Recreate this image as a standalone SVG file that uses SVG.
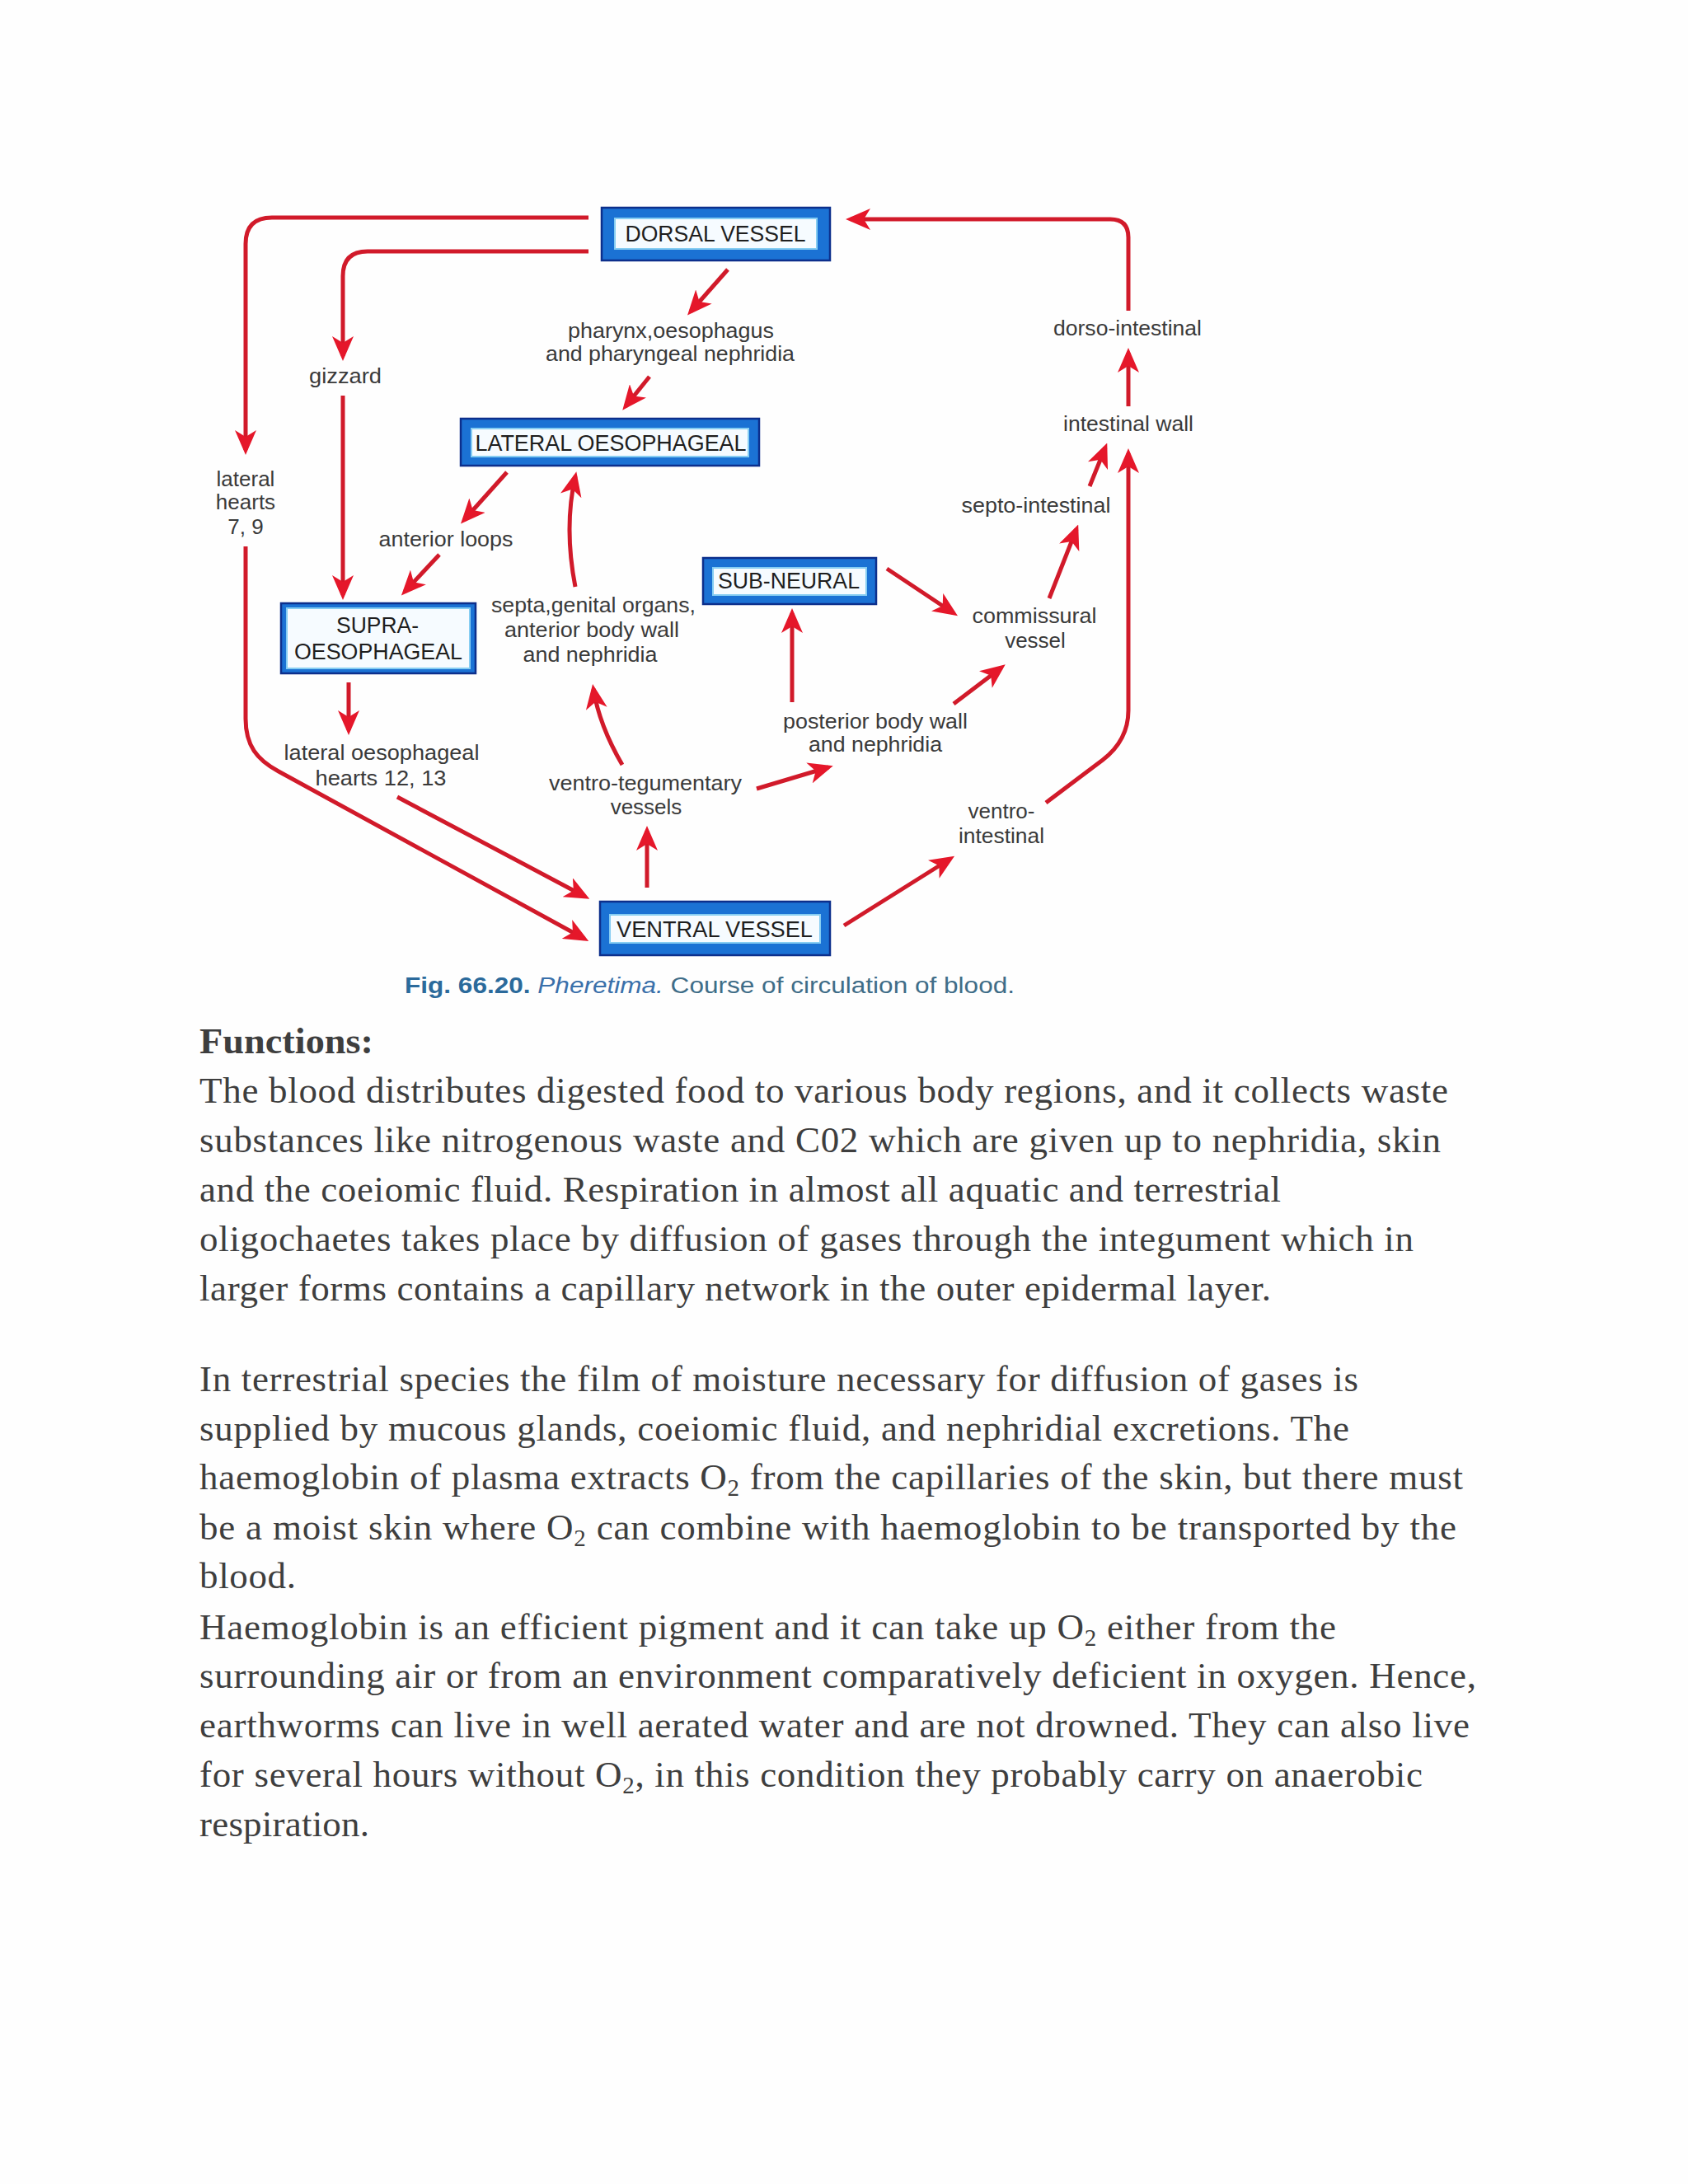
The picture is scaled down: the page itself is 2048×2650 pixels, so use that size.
<svg xmlns="http://www.w3.org/2000/svg" width="2048" height="2650" viewBox="0 0 2048 2650">
<defs>
<style>
.lbl{font-family:"Liberation Sans",Arial,sans-serif;font-size:26px;fill:#3a3a3a;text-anchor:middle}
.box-t{font-family:"Liberation Sans",Arial,sans-serif;font-size:27px;fill:#1e1e1e;text-anchor:middle}
.outer{fill:#1b72d4;stroke:#0c2f8c;stroke-width:2.5}
.inner{fill:#f6fbff;stroke:#86cdf2;stroke-width:2}
.con{fill:none;stroke:#d11a2a;stroke-width:5;marker-end:url(#ah)}
.body{font-family:"Liberation Serif","Times New Roman",serif;font-size:45px;fill:#3e3e3e}
.sub{font-size:29px}
.cap{font-family:"Liberation Sans",Arial,sans-serif;font-size:27px}
</style>
<marker id="ah" markerUnits="userSpaceOnUse" viewBox="0 0 30 26" refX="24" refY="13" markerWidth="30" markerHeight="26" orient="auto">
<path d="M0,0 L30,13 L0,26 L8,13 z" fill="#e5172a"/>
</marker>
</defs>
<rect x="0" y="0" width="2048" height="2650" fill="#fefefe"/>

<g id="connectors">
<path class="con" d="M714 264 L330 264 Q298 264 298 296 L298 546"/>
<path class="con" d="M714 305 L446 305 Q416 305 416 335 L416 432"/>
<path class="con" d="M416 480 L416 722"/>
<path class="con" d="M298 663 L298 872 C298 905 312 922 338 936 L709 1139"/>
<path class="con" d="M883 327 L838 378"/>
<path class="con" d="M788 457 L759 493"/>
<path class="con" d="M615 573 L563 631"/>
<path class="con" d="M533 673 L491 718"/>
<path class="con" d="M423 828 L423 886"/>
<path class="con" d="M482 967 L710 1088"/>
<path class="con" d="M785 1077 L785 1008"/>
<path class="con" d="M755 928 Q727 880 720 836"/>
<path class="con" d="M698 712 Q684 640 698 578"/>
<path class="con" d="M918 957 L1005 931"/>
<path class="con" d="M961 852 L961 744"/>
<path class="con" d="M1157 854 L1215 810"/>
<path class="con" d="M1076 690 L1157 744"/>
<path class="con" d="M1273 726 L1306 642"/>
<path class="con" d="M1322 590 L1341 543"/>
<path class="con" d="M1024 1123 L1153 1042"/>
<path class="con" d="M1269 974 L1338 922 Q1369 898 1369 862 L1369 550"/>
<path class="con" d="M1369 493 L1369 428"/>
<path class="con" d="M1369 377 L1369 288 Q1369 266 1347 266 L1032 266"/>
</g>

<g id="dorsal-vessel">
<rect class="outer" x="730" y="252" width="277" height="64"/>
<rect class="inner" x="746" y="265" width="245" height="37"/>
<text class="box-t" x="868" y="293" textLength="219" lengthAdjust="spacingAndGlyphs">DORSAL VESSEL</text>
</g>
<g id="lateral-oesophageal">
<rect class="outer" x="559" y="508" width="362" height="57"/>
<rect class="inner" x="572" y="520" width="336" height="34"/>
<text class="box-t" x="741" y="547" textLength="329" lengthAdjust="spacingAndGlyphs">LATERAL OESOPHAGEAL</text>
</g>
<g id="sub-neural">
<rect class="outer" x="853" y="677" width="210" height="56"/>
<rect class="inner" x="865" y="689" width="186" height="33"/>
<text class="box-t" x="957" y="714" textLength="172" lengthAdjust="spacingAndGlyphs">SUB-NEURAL</text>
</g>
<g id="supra-oesophageal">
<rect class="outer" x="341" y="732" width="236" height="85"/>
<rect class="inner" x="348" y="738" width="222" height="73"/>
<text class="box-t" x="458" y="768" textLength="100" lengthAdjust="spacingAndGlyphs">SUPRA-</text>
<text class="box-t" x="459" y="800" textLength="204" lengthAdjust="spacingAndGlyphs">OESOPHAGEAL</text>
</g>
<g id="ventral-vessel">
<rect class="outer" x="728" y="1094" width="279" height="65"/>
<rect class="inner" x="740" y="1110" width="255" height="34"/>
<text class="box-t" x="867" y="1137" textLength="238" lengthAdjust="spacingAndGlyphs">VENTRAL VESSEL</text>
</g>

<g id="gizzard"><text class="lbl" x="419" y="465" textLength="88" lengthAdjust="spacingAndGlyphs">gizzard</text></g>
<g id="pharynx">
<text class="lbl" x="814" y="410" textLength="250" lengthAdjust="spacingAndGlyphs">pharynx,oesophagus</text>
<text class="lbl" x="813" y="438" textLength="302" lengthAdjust="spacingAndGlyphs">and pharyngeal nephridia</text>
</g>
<g id="lateral-hearts">
<text class="lbl" x="298" y="590">lateral</text>
<text class="lbl" x="298" y="618">hearts</text>
<text class="lbl" x="298" y="648">7, 9</text>
</g>
<g id="anterior-loops"><text class="lbl" x="541" y="663" textLength="163" lengthAdjust="spacingAndGlyphs">anterior loops</text></g>
<g id="septa">
<text class="lbl" x="720" y="743" textLength="248" lengthAdjust="spacingAndGlyphs">septa,genital organs,</text>
<text class="lbl" x="718" y="773" textLength="212" lengthAdjust="spacingAndGlyphs">anterior body wall</text>
<text class="lbl" x="716" y="803" textLength="163" lengthAdjust="spacingAndGlyphs">and nephridia</text>
</g>
<g id="lateral-oesophageal-hearts">
<text class="lbl" x="463" y="922" textLength="237" lengthAdjust="spacingAndGlyphs">lateral oesophageal</text>
<text class="lbl" x="462" y="953" textLength="159" lengthAdjust="spacingAndGlyphs">hearts 12, 13</text>
</g>
<g id="ventro-tegumentary">
<text class="lbl" x="783" y="959" textLength="234" lengthAdjust="spacingAndGlyphs">ventro-tegumentary</text>
<text class="lbl" x="784" y="988">vessels</text>
</g>
<g id="posterior-body-wall">
<text class="lbl" x="1062" y="884" textLength="224" lengthAdjust="spacingAndGlyphs">posterior body wall</text>
<text class="lbl" x="1062" y="912" textLength="162" lengthAdjust="spacingAndGlyphs">and nephridia</text>
</g>
<g id="commissural-vessel">
<text class="lbl" x="1255" y="756" textLength="151" lengthAdjust="spacingAndGlyphs">commissural</text>
<text class="lbl" x="1256" y="786">vessel</text>
</g>
<g id="septo-intestinal"><text class="lbl" x="1257" y="622" textLength="181" lengthAdjust="spacingAndGlyphs">septo-intestinal</text></g>
<g id="intestinal-wall"><text class="lbl" x="1369" y="523" textLength="158" lengthAdjust="spacingAndGlyphs">intestinal wall</text></g>
<g id="dorso-intestinal"><text class="lbl" x="1368" y="407" textLength="180" lengthAdjust="spacingAndGlyphs">dorso-intestinal</text></g>
<g id="ventro-intestinal">
<text class="lbl" x="1215" y="993">ventro-</text>
<text class="lbl" x="1215" y="1023" textLength="104" lengthAdjust="spacingAndGlyphs">intestinal</text>
</g>

<g id="caption">
<text class="cap" x="491" y="1205" textLength="740" lengthAdjust="spacingAndGlyphs"><tspan font-weight="bold" fill="#2b6a9b">Fig. 66.20.</tspan><tspan font-style="italic" fill="#3a70aa"> Pheretima.</tspan><tspan fill="#3f6d88"> Course of circulation of blood.</tspan></text>
</g>

<g id="body-text">
<text class="body" x="242" y="1278" font-weight="bold" textLength="211" lengthAdjust="spacingAndGlyphs">Functions:</text>
<text class="body" x="242" y="1338" textLength="1515">The blood distributes digested food to various body regions, and it collects waste</text>
<text class="body" x="242" y="1398" textLength="1506">substances like nitrogenous waste and C02 which are given up to nephridia, skin</text>
<text class="body" x="242" y="1458" textLength="1312">and the coeiomic fluid. Respiration in almost all aquatic and terrestrial</text>
<text class="body" x="242" y="1518" textLength="1473">oligochaetes takes place by diffusion of gases through the integument which in</text>
<text class="body" x="242" y="1578" textLength="1300">larger forms contains a capillary network in the outer epidermal layer.</text>

<text class="body" x="242" y="1688" textLength="1406">In terrestrial species the film of moisture necessary for diffusion of gases is</text>
<text class="body" x="242" y="1748" textLength="1395">supplied by mucous glands, coeiomic fluid, and nephridial excretions. The</text>
<text class="body" x="242" y="1807" textLength="1533">haemoglobin of plasma extracts O<tspan class="sub" dy="8">2</tspan><tspan dy="-8"> from the capillaries of the skin, but there must</tspan></text>
<text class="body" x="242" y="1868" textLength="1525">be a moist skin where O<tspan class="sub" dy="8">2</tspan><tspan dy="-8"> can combine with haemoglobin to be transported by the</tspan></text>
<text class="body" x="242" y="1927" textLength="117">blood.</text>

<text class="body" x="242" y="1989" textLength="1379">Haemoglobin is an efficient pigment and it can take up O<tspan class="sub" dy="8">2</tspan><tspan dy="-8"> either from the</tspan></text>
<text class="body" x="242" y="2048" textLength="1549">surrounding air or from an environment comparatively deficient in oxygen. Hence,</text>
<text class="body" x="242" y="2108" textLength="1541">earthworms can live in well aerated water and are not drowned. They can also live</text>
<text class="body" x="242" y="2168" textLength="1484">for several hours without O<tspan class="sub" dy="8">2</tspan><tspan dy="-8">, in this condition they probably carry on anaerobic</tspan></text>
<text class="body" x="242" y="2228" textLength="206">respiration.</text>
</g>
</svg>
